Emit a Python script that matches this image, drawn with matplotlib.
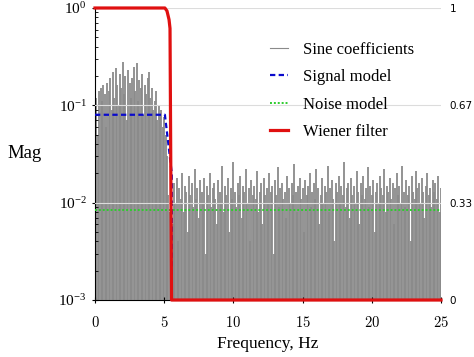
import numpy as np
import matplotlib
matplotlib.use("Agg")
import matplotlib.pyplot as plt
from matplotlib.lines import Line2D

plt.rcParams["font.family"] = ["Liberation Serif", "DejaVu Serif"]
plt.rcParams["mathtext.fontset"] = "cm"

# sine coefficient magnitudes, one per 0.1 Hz from 0 to 25 Hz
coef_low = [0.13, 0.12, 0.05, 0.14, 0.15, 0.11, 0.16, 0.13, 0.06, 0.17,
            0.14, 0.19, 0.09, 0.22, 0.12, 0.24, 0.16, 0.10, 0.21, 0.15,
            0.28, 0.13, 0.20, 0.07, 0.23, 0.17, 0.12, 0.19, 0.25, 0.14,
            0.27, 0.11, 0.18, 0.15, 0.21, 0.08, 0.16, 0.13, 0.19, 0.22,
            0.12, 0.15, 0.09, 0.11, 0.14, 0.07, 0.10, 0.08, 0.09, 0.06,
            0.075, 0.05, 0.03, 0.012, 0.008]
coef_high = [0.012, 0.006, 0.016, 0.010, 0.018, 0.004, 0.014, 0.011, 0.020, 0.008,
             0.015, 0.013, 0.005, 0.019, 0.012, 0.016, 0.009, 0.022, 0.011, 0.014,
             0.007, 0.017, 0.013, 0.010, 0.018, 0.003, 0.015, 0.012, 0.020, 0.009,
             0.014, 0.016, 0.011, 0.006, 0.017, 0.013, 0.010, 0.024, 0.008, 0.015,
             0.012, 0.018, 0.005, 0.014, 0.011, 0.026, 0.013, 0.009, 0.016, 0.012,
             0.019, 0.007, 0.015, 0.013, 0.022, 0.010, 0.014, 0.004, 0.017, 0.012,
             0.015, 0.011, 0.021, 0.008, 0.013, 0.016, 0.006, 0.018, 0.012, 0.014,
             0.010, 0.020, 0.013, 0.015, 0.003, 0.017, 0.012, 0.023, 0.009, 0.014,
             0.016, 0.011, 0.013, 0.007, 0.019, 0.014, 0.010, 0.016, 0.012, 0.025,
             0.013, 0.008, 0.015, 0.018, 0.011, 0.014, 0.005, 0.017, 0.012, 0.015,
             0.020, 0.009, 0.013, 0.016, 0.011, 0.022, 0.014, 0.006, 0.012, 0.018,
             0.010, 0.015, 0.013, 0.024, 0.008, 0.014, 0.017, 0.011, 0.004, 0.016,
             0.013, 0.019, 0.010, 0.015, 0.012, 0.026, 0.009, 0.014, 0.016, 0.007,
             0.018, 0.012, 0.015, 0.010, 0.021, 0.013, 0.006, 0.016, 0.012, 0.019,
             0.011, 0.014, 0.023, 0.009, 0.015, 0.012, 0.017, 0.005, 0.013, 0.016,
             0.010, 0.019, 0.014, 0.012, 0.022, 0.008, 0.015, 0.013, 0.018, 0.011,
             0.016, 0.006, 0.014, 0.020, 0.012, 0.015, 0.010, 0.024, 0.013, 0.009,
             0.017, 0.012, 0.015, 0.004, 0.019, 0.013, 0.011, 0.021, 0.014, 0.016,
             0.010, 0.018, 0.013, 0.007, 0.015, 0.020, 0.012, 0.014, 0.009, 0.017,
             0.013, 0.016, 0.011, 0.019, 0.008, 0.014]
coefs = np.array(coef_low + coef_high)
freq = np.linspace(0, 25, len(coefs))

# models
sig_f = [0, 5.05, 5.55, 5.56]
sig_v = [0.08, 0.08, 0.02, 1e-5]
noise_f = [0, 25]
noise_v = [0.0085, 0.0085]
# Wiener filter (linear scale, right axis)
wien_f = [0, 5.05, 5.2, 5.35, 5.42, 5.53, 25]
wien_v = [1, 1, 0.99, 0.96, 0.93, 0.0, 0.0]

fig = plt.figure(figsize=(4.74, 3.57), dpi=100)
ax = fig.add_axes([95/474, 1-300/357, 346/474, 292/357])
ax2 = ax.twinx()

ax.vlines(freq, 1e-3, coefs, color="#8a8a8a", lw=1.3, zorder=1)
ax.plot(sig_f, sig_v, color="#0a0acc", lw=1.6, dashes=(2.4, 1.5), zorder=3)
ax.plot(noise_f, noise_v, color="#2ecc2e", lw=1.4, ls=(0, (1, 1)), zorder=3)
ax.set_yscale("log")
ax.set_ylim(1e-3, 1)
ax.set_xlim(0, 25)
ax.set_xticks([0, 5, 10, 15, 20, 25])
ax.set_xticklabels([f"${v}$" for v in [0, 5, 10, 15, 20, 25]], fontsize=10.5)
ax.tick_params(axis="y", which="major", labelsize=11, direction="inout", length=5)
ax.tick_params(axis="y", which="minor", direction="in", length=2.5)
ax.tick_params(axis="x", direction="inout", length=4, pad=9)
for s in ["top", "right"]:
    ax.spines[s].set_visible(False)
ax.set_xlabel("Frequency, Hz", fontsize=12.5, labelpad=4)
ax.set_ylabel("Mag", fontsize=13.5, rotation=0, labelpad=24, va="center")

ax2.plot(wien_f, wien_v, color="#e01010", lw=2.3, zorder=4, clip_on=False)
ax2.set_ylim(0, 1)
ax2.set_yticks([0, 1/3, 2/3, 1])
ax2.set_yticklabels(["0", "0.33", "0.67", "1"], fontsize=7.5, family="DejaVu Sans")
ax2.tick_params(axis="y", length=0, pad=6)
ax2.grid(True, color="#dcdcdc", lw=0.8)
ax2.xaxis.grid(True)
ax.grid(False)
for s in ["top", "right", "left", "bottom"]:
    ax2.spines[s].set_visible(False)
ax2.set_axisbelow(False)

handles = [Line2D([], [], color="#8a8a8a", lw=0.8),
           Line2D([], [], color="#0a0acc", lw=1.6, dashes=(2.4, 1.5)),
           Line2D([], [], color="#2ecc2e", lw=1.4, ls=(0, (1, 1))),
           Line2D([], [], color="#e01010", lw=2.3)]
labels = ["Sine coefficients", "Signal model", "Noise model", "Wiener filter"]
ax2.legend(handles, labels, loc="upper left", bbox_to_anchor=(255/474, 1-27/357),
           bbox_transform=fig.transFigure, frameon=False, fontsize=12,
           handlelength=1.1, handletextpad=0.9, labelspacing=0.68)

fig.savefig("out.png", dpi=100)
